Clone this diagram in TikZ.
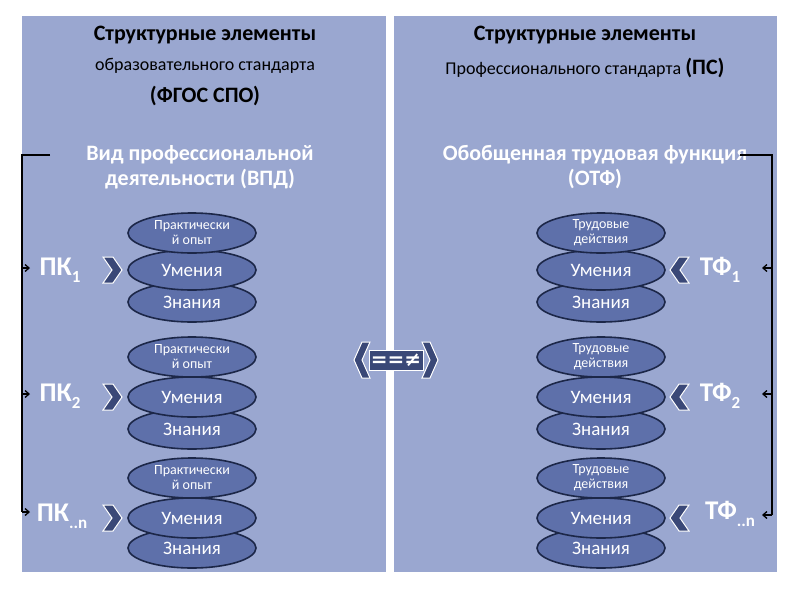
\documentclass[tikz,border=0pt]{standalone}
\usepackage{fontspec}
\setmainfont{Carlito}
\newfontfamily\djv{DejaVu Sans}
\usetikzlibrary{arrows.meta,shapes.geometric}
\definecolor{panel}{HTML}{9AA7D0}
\definecolor{ell}{HTML}{5E70AA}
\definecolor{ellb}{HTML}{1C2748}
\definecolor{chev}{HTML}{3A4877}
\tikzset{
 el/.style={ellipse,draw=ellb,line width=1.6pt,fill=ell,minimum width=128pt,minimum height=40pt,inner sep=0pt,text=white,font=\fontsize{19}{20}\selectfont,align=center},
 els/.style={el,font=\fontsize{14}{15}\selectfont},
 lab/.style={text=white,font=\bfseries\fontsize{27}{28}\selectfont},
 wt/.style={text=white,font=\bfseries\fontsize{22}{25}\selectfont,align=center},
 br/.style={line width=1.3pt,black},
 ar/.style={br,-{Straight Barb[length=4pt,width=7pt]}},
 chevR/.pic={\path[fill=chev,draw=white,line width=1pt] (-9,-13)--(1,-13)--(10,0)--(1,13)--(-9,13)--(0,0)--cycle;},
 chevL/.pic={\path[fill=chev,draw=white,line width=1pt] (9,-13)--(-1,-13)--(-10,0)--(-1,13)--(9,13)--(0,0)--cycle;},
 bigR/.pic={\path[fill=chev,draw=white,line width=1pt] (-8,-18)--(0,-18)--(8,0)--(0,18)--(-8,18)--(0,0)--cycle;},
 bigL/.pic={\path[fill=chev,draw=white,line width=1pt] (8,-18)--(0,-18)--(-8,0)--(0,18)--(8,18)--(0,0)--cycle;},
}
\begin{document}
\begin{tikzpicture}[x=1pt,y=-1pt]
\useasboundingbox (0,0) rectangle (800,600);
\fill[white] (0,0) rectangle (800,600);
\fill[panel] (22,16) rectangle (386,572);
\fill[panel] (394,16) rectangle (777,572);
\node (h1) at (205,35) {\bfseries\fontsize{22}{24}\selectfont Структурные элементы};
\node (h2) at (205,66) {\fontsize{18}{20}\selectfont образовательного стандарта};
\node (h3) at (205,96) {\bfseries\fontsize{22}{24}\selectfont (ФГОС СПО)};
\node (h4) at (585,35) {\bfseries\fontsize{22}{24}\selectfont Структурные элементы};
\node (h5) at (585,68) {\fontsize{18}{20}\selectfont Профессионального стандарта \bfseries\fontsize{22}{24}\selectfont (ПС)};
\node[wt] (vpd) at (200,167) {Вид профессиональной\\деятельности (ВПД)};
\node[wt] (otf) at (595,167) {Обобщенная трудовая функция\\(ОТФ)};
\foreach \y/\a/\b [count=\i] in {233/270/302, 357/397/429, 478/518/548}{
 \node[el] (lz\i) at (192,\b) {Знания};
 \node[el] (lu\i) at (192,\a) {Умения};
 \node[els] (lp\i) at (192,\y) {Практически\\й опыт};
 \node[el] (rz\i) at (601,\b) {Знания};
 \node[el] (ru\i) at (601,\a) {Умения};
 \node[els] (rp\i) at (601,\y) {Трудовые\\действия};
 \pic at (112,\a) {chevR};
 \pic at (680,\a) {chevL};
}
\newcommand{\sbx}[1]{\raisebox{-0.25em}{\fontsize{17}{17}\selectfont #1}}
\node[lab] (pk1) at (60,270) {ПК\sbx{1}};
\node[lab] (pk2) at (60,396) {ПК\sbx{2}};
\node[lab] (pk3) at (62,516) {ПК\sbx{..n}};
\node[lab] (tf1) at (720,270) {ТФ\sbx{1}};
\node[lab] (tf2) at (720,396) {ТФ\sbx{2}};
\node[lab] (tf3) at (730,514) {ТФ\sbx{..n}};
\coordinate (lt) at (50,155); \coordinate (lc) at (22,155);
\draw[br] (lt) -- (lc) -- (22,512);
\foreach \y in {268,394,512}{\draw[ar] (22,\y) -- (30,\y);}
\coordinate (rt) at (740,155); \coordinate (rc) at (772,155);
\draw[br] (rt) -- (rc) -- (772,515);
\foreach \y in {268,394,515}{\draw[ar] (772,\y) -- (762,\y);}
\pic at (362,360) {bigL};
\pic at (430,360) {bigR};
\node[fill=chev,draw=white,line width=1pt,minimum width=54pt,minimum height=20pt,inner sep=0pt,text=white,font=\djv\bfseries\fontsize{20}{20}\selectfont] (ne) at (396,360) {==≠};
\end{tikzpicture}
\end{document}
